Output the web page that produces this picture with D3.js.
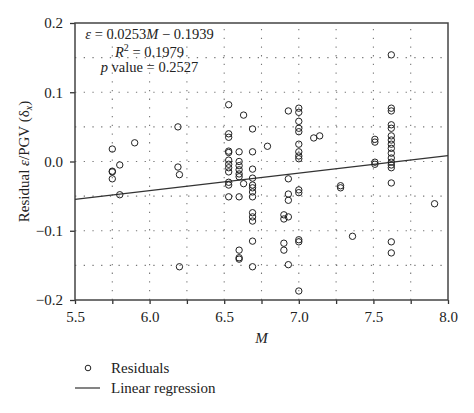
<!DOCTYPE html>
<html>
<head>
<meta charset="utf-8">
<script src="https://cdn.jsdelivr.net/npm/d3@7"></script>
<style>
body { margin: 0; background: #fff; }
text { font-family: "Liberation Serif", "DejaVu Serif", serif; fill: #222; }
</style>
</head>
<body>
<div class="container"></div>
<script>
// magnitude of each event and its residual
const magnitude = [
    5.75, 5.75, 5.75, 5.75,
    5.80, 5.80,
    5.90,
    6.19, 6.19,
    6.20, 6.20,
    6.53, 6.53, 6.53, 6.53, 6.53, 6.53, 6.53, 6.53, 6.53, 6.53, 6.53, 6.53,
    6.60, 6.60, 6.60, 6.60, 6.60, 6.60, 6.60, 6.60, 6.60, 6.60,
    6.63, 6.63,
    6.69, 6.69, 6.69, 6.69, 6.69, 6.69, 6.69, 6.69, 6.69, 6.69, 6.69, 6.69, 6.69,
    6.79,
    6.90, 6.90, 6.90, 6.90,
    6.93, 6.93, 6.93, 6.93, 6.93, 6.93,
    7.00, 7.00, 7.00, 7.00, 7.00, 7.00, 7.00, 7.00, 7.00, 7.00, 7.00, 7.00, 7.00, 7.00,
    7.10, 7.14,
    7.28, 7.28,
    7.36,
    7.51, 7.51, 7.51, 7.51,
    7.62, 7.62, 7.62, 7.62, 7.62, 7.62, 7.62, 7.62, 7.62, 7.62, 7.62, 7.62, 7.62, 7.62, 7.62, 7.62, 7.62,
    7.91
]
const residual = [
    0.018, -0.014, -0.015, -0.025,
    -0.005, -0.048,
    0.027,
    0.050, -0.008,
    -0.019, -0.152,
    0.082, 0.040, 0.035, 0.015, 0.013, 0.002, -0.004, -0.009, -0.015, -0.030, -0.034, -0.051,
    0.014, 0.000, -0.006, -0.012, -0.018, -0.022, -0.051, -0.128, -0.139, -0.141,
    0.067, -0.032,
    0.047, 0.014, -0.011, -0.024, -0.034, -0.038, -0.044, -0.051, -0.074, -0.080, -0.086, -0.115, -0.152,
    0.022,
    -0.077, -0.083, -0.118, -0.128,
    0.073, -0.025, -0.047, -0.056, -0.080, -0.149,
    0.077, 0.071, 0.058, 0.048, 0.043, 0.025, 0.014, 0.008, 0.004, -0.041, -0.045, -0.113, -0.116, -0.187,
    0.034, 0.037,
    -0.035, -0.038,
    -0.108,
    0.032, 0.028, -0.001, -0.004,
    0.154, 0.077, 0.073, 0.053, 0.048, 0.037, 0.031, 0.025, 0.019, 0.012, 0.005, -0.001, -0.005, -0.009, -0.031, -0.116, -0.132,
    -0.061
]

const xTicks = [5.5, 6.0, 6.5, 7.0, 7.5, 8.0]
const xMinorTicks = [5.5, 5.75, 6.0, 6.25, 6.5, 6.75, 7.0, 7.25, 7.5, 7.75, 8.0]
const yTicks = [-0.2, -0.1, 0.0, 0.1, 0.2]
const xGrid = [5.75, 6.0, 6.25, 6.5, 6.75, 7.0, 7.25, 7.5, 7.75]
const yGrid = [-0.15, -0.1, -0.05, 0.0, 0.05, 0.1, 0.15]

const fitSlope = 0.0253
const fitIntercept = -0.1939

const width = 474, height = 413
const margin = {top: 23, right: 26, bottom: 113, left: 75}
const plotW = width - margin.left - margin.right
const plotH = height - margin.top - margin.bottom

const svg = d3.select(".container").append("svg")
    .attr("width", width)
    .attr("height", height)

const x = d3.scaleLinear().domain([5.5, 8.0]).range([margin.left, margin.left + plotW])
const y = d3.scaleLinear().domain([-0.2, 0.2]).range([margin.top + plotH, margin.top])

// dotted grid
svg.append("g").selectAll("line").data(xGrid).enter()
    .append("line")
    .attr("x1", d => x(d)).attr("x2", d => x(d))
    .attr("y1", y(-0.2)).attr("y2", y(0.2))
    .attr("stroke", "#777").attr("stroke-width", 1.1)
    .attr("stroke-dasharray", "1.3,7.4")
svg.append("g").selectAll("line").data(yGrid).enter()
    .append("line")
    .attr("y1", d => y(d)).attr("y2", d => y(d))
    .attr("x1", x(5.5)).attr("x2", x(8.0))
    .attr("stroke", "#777").attr("stroke-width", 1.1)
    .attr("stroke-dasharray", "1.3,7.4")

// axes
const xAxis = svg.append("g")
    .attr("transform", `translate(0,${y(-0.2)})`)
    .call(d3.axisBottom(x).tickValues(xMinorTicks).tickSize(4).tickPadding(7)
        .tickFormat(d => xTicks.includes(d) ? d3.format(".1f")(d) : ""))
const yAxis = svg.append("g")
    .attr("transform", `translate(${x(5.5)},0)`)
    .call(d3.axisLeft(y).tickValues(yTicks).tickSize(5).tickPadding(7)
        .tickFormat(d3.format(".1f")))

for (const ax of [xAxis, yAxis]) {
    ax.select(".domain").remove()
    ax.selectAll("line").attr("stroke", "#333").attr("stroke-width", 1.3)
    ax.selectAll("text").attr("font-size", 15)
        .attr("font-family", "Liberation Serif, DejaVu Serif, serif").attr("fill", "#222")
}

// frame
svg.append("rect")
    .attr("x", x(5.5)).attr("y", y(0.2))
    .attr("width", plotW).attr("height", plotH)
    .attr("fill", "none").attr("stroke", "#444").attr("stroke-width", 1.5)

// regression line
const fitLine = d3.line().x(d => x(d)).y(d => y(fitSlope * d + fitIntercept))
svg.append("path")
    .attr("d", fitLine(x.domain()))
    .attr("fill", "none").attr("stroke", "#333").attr("stroke-width", 1.2)

// residual points
svg.append("g").selectAll("circle").data(magnitude).enter()
    .append("circle")
    .attr("cx", (d, i) => x(magnitude[i]))
    .attr("cy", (d, i) => y(residual[i]))
    .attr("r", 3.2)
    .attr("fill", "none")
    .attr("stroke", "#222")
    .attr("stroke-width", 1)

// equation and stats
const eq = svg.append("text").attr("x", 149.5).attr("y", 39)
    .attr("text-anchor", "middle").attr("font-size", 14.5)
eq.append("tspan").attr("font-style", "italic").text("ε")
eq.append("tspan").text(" = 0.0253")
eq.append("tspan").attr("font-style", "italic").text("M")
eq.append("tspan").text(" − 0.1939")

const r2 = svg.append("text").attr("x", 149.5).attr("y", 57)
    .attr("text-anchor", "middle").attr("font-size", 14.5)
r2.append("tspan").attr("font-style", "italic").text("R")
r2.append("tspan").attr("font-size", 10).attr("dy", -6).text("2")
r2.append("tspan").attr("dy", 6).text(" = 0.1979")

const pv = svg.append("text").attr("x", 149.5).attr("y", 72)
    .attr("text-anchor", "middle").attr("font-size", 14.5)
pv.append("tspan").attr("font-style", "italic").text("p")
pv.append("tspan").text(" value = 0.2527")

// axis titles
svg.append("text")
    .attr("x", (x(5.5) + x(8.0)) / 2).attr("y", 343)
    .attr("text-anchor", "middle").attr("font-size", 15)
    .attr("font-style", "italic").text("M")

const yl = svg.append("text")
    .attr("transform", `translate(29,${(y(0.2) + y(-0.2)) / 2}) rotate(-90)`)
    .attr("text-anchor", "middle").attr("font-size", 15)
yl.append("tspan").text("Residual ")
yl.append("tspan").attr("font-style", "italic").text("ε")
yl.append("tspan").text("/PGV (δ")
yl.append("tspan").attr("font-style", "italic").attr("font-size", 10).attr("dy", 3).text("x")
yl.append("tspan").attr("dy", -3).text(")")

// legend
svg.append("circle").attr("cx", 88).attr("cy", 368).attr("r", 2.8)
    .attr("fill", "none").attr("stroke", "#222").attr("stroke-width", 1)
svg.append("text").attr("x", 111).attr("y", 373).attr("font-size", 15).text("Residuals")
svg.append("line").attr("x1", 75).attr("x2", 100).attr("y1", 388).attr("y2", 388)
    .attr("stroke", "#333").attr("stroke-width", 1.2)
svg.append("text").attr("x", 111).attr("y", 393).attr("font-size", 15).text("Linear regression")
</script>
</body>
</html>
